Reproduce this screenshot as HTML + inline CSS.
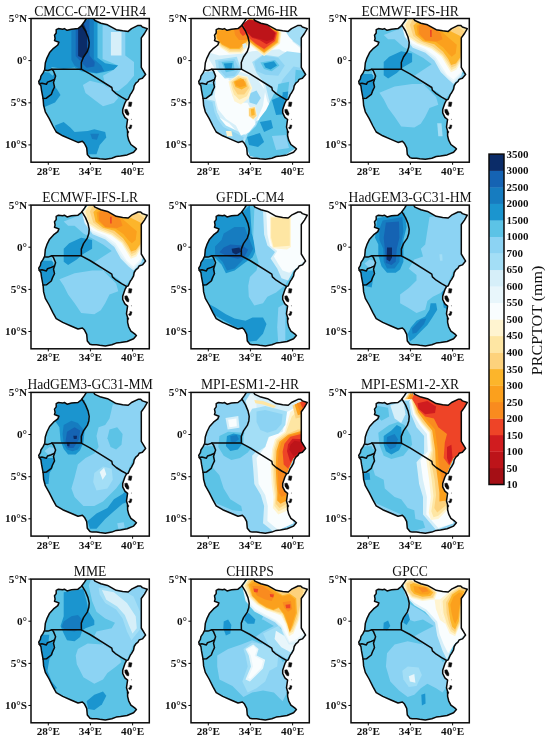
<!DOCTYPE html>
<html><head><meta charset="utf-8"><title>PRCPTOT</title>
<style>
html,body{margin:0;padding:0;background:#fff}
svg{display:block}
.t{font-family:"Liberation Serif","Times New Roman",serif;font-size:13.6px;fill:#111}
.k{font-family:"Liberation Serif","Times New Roman",serif;font-weight:bold;font-size:11.2px;fill:#111}
.c{font-family:"Liberation Serif","Times New Roman",serif;font-weight:bold;font-size:11px;fill:#111}
.l{font-family:"Liberation Serif","Times New Roman",serif;font-size:15.6px;fill:#111}
</style></head><body>
<svg width="550" height="742" viewBox="0 0 550 742">
<rect width="550" height="742" fill="#fff"/>
<defs>
<clipPath id="cp"><path d="M55.7 -0.5 L62.3 -0.5 L63.9 2 L69.9 4.7 L76.5 6.3 L85.2 11.2 L91.7 12.3 L97.2 12.9 L100.5 10.1 L107 6.9 L109.7 6.9 L111.4 8.5 L116.3 10.1 L113.5 15 L110.3 19.4 L110.3 48.9 L114.6 56 L111.4 59.8 L108.1 60.9 L107 63 L104.8 64.7 L103.2 67.4 L102.6 70.7 L100.5 74.5 L99.4 75.9 L97.2 80.8 L95.5 81.5 L93.9 84.6 L91.7 91.1 L91.7 94.4 L93.9 98.8 L96.6 101 L96.1 104.2 L95.5 108.6 L96.6 112.4 L96.6 117.3 L97.7 121.7 L99.9 126 L103.7 128.8 L105.4 130.4 L102.6 133.7 L96.1 136.4 L89.5 137.5 L85.2 138 L80.8 139.7 L74.3 140.8 L68.8 140.2 L65.5 139.7 L61.2 139.7 L59 139.1 L56.3 135.9 L55.7 129.3 L53.5 125 L51.4 122.8 L47 123.9 L39.4 120.6 L31.7 117.3 L25.2 113.5 L21.9 107.5 L18.1 99.9 L14.3 93.3 L12.6 86.8 L12.1 80.2 L10.5 71.8 L9.9 67.4 L8.3 65.2 L7.7 63 L9.4 60.3 L9.9 57.6 L12.1 54.3 L13.7 51 L14.3 44.5 L15.9 39.6 L18.6 34.1 L22.5 29.8 L26.8 26.5 L27.9 23.8 L23.5 22.1 L24.1 20 L23.5 16.7 L25.2 14.5 L25.2 11.2 L27.4 10.1 L31.7 10.7 L33.4 10.1 L36.1 11.8 L40.5 10.7 L47 10.1 L50.3 7.4 L53.5 3Z"/></clipPath>
<clipPath id="fr"><rect x="0" y="0" width="118.3" height="143.7"/></clipPath>
<g id="bd" fill="none" stroke="#0a0a0a" stroke-width="1.5" stroke-linejoin="round" stroke-linecap="round"><path d="M55.7 -0.5 L62.3 -0.5 L63.9 2 L69.9 4.7 L76.5 6.3 L85.2 11.2 L91.7 12.3 L97.2 12.9 L100.5 10.1 L107 6.9 L109.7 6.9 L111.4 8.5 L116.3 10.1 L113.5 15 L110.3 19.4 L110.3 48.9 L114.6 56 L111.4 59.8 L108.1 60.9 L107 63 L104.8 64.7 L103.2 67.4 L102.6 70.7 L100.5 74.5 L99.4 75.9 L97.2 80.8 L95.5 81.5 L93.9 84.6 L91.7 91.1 L91.7 94.4 L93.9 98.8 L96.6 101 L96.1 104.2 L95.5 108.6 L96.6 112.4 L96.6 117.3 L97.7 121.7 L99.9 126 L103.7 128.8 L105.4 130.4 L102.6 133.7 L96.1 136.4 L89.5 137.5 L85.2 138 L80.8 139.7 L74.3 140.8 L68.8 140.2 L65.5 139.7 L61.2 139.7 L59 139.1 L56.3 135.9 L55.7 129.3 L53.5 125 L51.4 122.8 L47 123.9 L39.4 120.6 L31.7 117.3 L25.2 113.5 L21.9 107.5 L18.1 99.9 L14.3 93.3 L12.6 86.8 L12.1 80.2 L10.5 71.8 L9.9 67.4 L8.3 65.2 L7.7 63 L9.4 60.3 L9.9 57.6 L12.1 54.3 L13.7 51 L14.3 44.5 L15.9 39.6 L18.6 34.1 L22.5 29.8 L26.8 26.5 L27.9 23.8 L23.5 22.1 L24.1 20 L23.5 16.7 L25.2 14.5 L25.2 11.2 L27.4 10.1 L31.7 10.7 L33.4 10.1 L36.1 11.8 L40.5 10.7 L47 10.1 L50.3 7.4 L53.5 3Z"/><path d="M51 6.8 L54.5 12.5 L57 18.5 L58.2 24 L57.8 28.5 L56.3 33 L52.5 38.5 L50.3 44 L50.4 50.7"/><path d="M14.5 51.8 L17 52 L20.8 50.7 L50.3 50.7 L59 55.4 L80.8 69 L81.4 71.8 L85.2 75.1 L90.6 78.6 L95.5 81.3"/><path d="M20.8 50.7 L22.5 52.5 L24.6 57.6 L23.5 60.9 L22.5 64.1 L23.5 68.5 L21.4 72.9 L20.3 75.9 L15.4 79.7 L12.1 80"/><path d="M23.5 60.9 L20.3 62.3 L16.5 63.6 L15.4 65.8 L11 64.7 L8.3 65.2"/><path d="M98.2 83.5 L101 83.8 L100.1 88 L97.5 87.7Z" fill="#0a0a0a" stroke-width="0.5"/><path d="M94 91 L96.1 90.7 L97.9 94.7 L97.6 96.8 L95.8 96.5 L94 93.8Z" fill="#0a0a0a" stroke-width="0.5"/><path d="M99.2 106.5 L101 106.8 L100.1 110.1 L98.2 110.4 L97.6 108.9 L98.8 108.3Z" fill="#0a0a0a" stroke-width="0.5"/><path d="M96.6 112.5 L97.8 113 L97.5 114.5 L96.6 114.3Z" fill="#0a0a0a" stroke-width="0.5"/><circle cx="100.4" cy="100.7" r="0.5" fill="#666" stroke="none"/></g>
<g id="ax"><rect x="0" y="0" width="118.3" height="143.7" fill="none" stroke="#0a0a0a" stroke-width="1.5"/><path d="M-2.6 0.0H0" stroke="#0a0a0a" stroke-width="1"/><text class="k" x="-4" y="3.5" text-anchor="end">5°N</text><path d="M-2.6 42.1H0" stroke="#0a0a0a" stroke-width="1"/><text class="k" x="-4" y="45.6" text-anchor="end">0°</text><path d="M-2.6 84.3H0" stroke="#0a0a0a" stroke-width="1"/><text class="k" x="-4" y="87.8" text-anchor="end">5°S</text><path d="M-2.6 126.4H0" stroke="#0a0a0a" stroke-width="1"/><text class="k" x="-4" y="129.9" text-anchor="end">10°S</text><path d="M17.3 143.7v2.6" stroke="#0a0a0a" stroke-width="1"/><text class="k" x="17.3" y="156.3" text-anchor="middle">28°E</text><path d="M59.4 143.7v2.6" stroke="#0a0a0a" stroke-width="1"/><text class="k" x="59.4" y="156.3" text-anchor="middle">34°E</text><path d="M101.6 143.7v2.6" stroke="#0a0a0a" stroke-width="1"/><text class="k" x="101.6" y="156.3" text-anchor="middle">40°E</text></g>
</defs>
<g transform="translate(31.0 18.5)">
<g clip-path="url(#fr)"><g clip-path="url(#cp)">
<rect x="0" y="0" width="118.3" height="143.7" fill="#5cc3e6"/>
<path d="M8.7 4.4 L66.5 0 L66.5 39.3 L74.2 44.7 L87.3 46.9 L82.9 51.3 L73.1 53.5 L65.5 55 L50.2 52.8 L43.6 49.1 L32.7 50.6 L25.1 51.5 L21.8 54.5 L13.1 53.5 L6.5 56.7 L6.5 91.6 L15.3 87.7 L24 84 L29.5 76.4 L26.2 70.9 L21.8 65.5 L24.4 57.2 L21.8 51.5 L8.7 51.5Z" fill="#1b95cf"/>
<path d="M20.7 48.4 L32.7 50.6 L24.4 52.4 L21.8 57.2 L18.5 54.5Z" fill="#5cc3e6"/>
<path d="M71.6 6.5 L94.3 13.1 L94.3 37.1 L103 43.6 L103 57.2 L96 65.5 L87.3 72.4 L82.9 72 L87.3 79.6 L82.9 84.4 L72 87.7 L63.3 81.2 L54.5 74.6 L51.9 66.5 L58.9 62.2 L72 65.5 L78.5 70.3 L74.2 65.5 L72 57.2 L82.9 51.3 L87.3 46.9 L71.6 40.4Z" fill="#8cd3f3"/>
<path d="M79.9 13.5 L90.5 13.5 L90.5 37.1 L79.9 37.1Z" fill="#d6eff9"/>
<path d="M40.4 8.7 L62.8 0 L62.8 40.4 L70.3 46.9 L73.1 52.4 L65.5 54.5 L56.7 52.4 L51.3 51.5 L43.6 47.3 L40.4 41.5Z" fill="#167cc0"/>
<path d="M44.7 8.7 L58.5 0 L58.5 37.1 L63.7 43.6 L63.3 48 L55.6 49.3 L51.3 44.7 L44.7 37.5Z" fill="#1563b3"/>
<path d="M47.1 9.8 L52.4 4.4 L55.9 13.1 L56.3 32.7 L52.4 40.1 L47.1 37.5Z" fill="#0b2c68"/>
<path d="M24 106.9 L32.7 103.6 L39.3 109.1 L43.6 113.5 L56.7 112.4 L63.3 110.8 L74.2 113.5 L75.3 118.9 L68.7 126.5 L65.5 135.7 L56.7 135.7 L54.5 124.8 L43.6 122.6 L32.7 118.3 L25.1 113.5Z" fill="#1b95cf"/>
<path d="M59.3 115.2 L68.1 115.2 L65.9 121.3 L61.1 120.4Z" fill="#167cc0"/>
</g><use href="#bd"/></g>
<use href="#ax"/>
<text class="t" x="59.1" y="-3" text-anchor="middle">CMCC-CM2-VHR4</text>
</g>
<g transform="translate(191.0 18.5)">
<g clip-path="url(#fr)"><g clip-path="url(#cp)">
<rect x="0" y="0" width="118.3" height="143.7" fill="#f9fdfe"/>
<path d="M13.1 32.7 L28.4 37.1 L52.4 34.9 L61.1 32.7 L91.6 30.5 L117.8 8.7 L117.8 91.6 L102.5 139.6 L50.2 139.6 L50.2 117.8 L38.2 104.7 L27.3 98.2 L24 85.1 L13.1 80.7 L6.5 65.5 L6.5 52.4 L24 52.4 L25.1 65.5 L30.5 72 L37.1 65.5 L38.2 55.6 L50.2 53.5 L65.5 58.9 L74.2 72 L72 87.3 L65.5 102.5 L54.5 113.5 L56.7 122.2 L72 122.2 L87.3 109.1 L82.9 93.8 L76.4 82.9 L72 65.5 L63.3 56.7 L51.3 51.3 L24 50.6Z" fill="#d6eff9"/>
<path d="M86.2 13.1 L93.8 10.9 L98.2 19.6 L102.5 24 L113.5 32.7 L109.1 37.1 L100.4 34.9 L91.6 32.7 L85.1 28.4Z" fill="#f9fdfe"/>
<path d="M87.3 9.8 L102.5 7.6 L117.8 8.7 L113.5 30.5 L102.5 22.9 L98.2 18.5 L93.8 12Z" fill="#a3def6"/>
<path d="M96 32.7 L113.5 34.9 L115.6 65.5 L102.5 72 L96 87.3 L102.5 130.9 L65.5 141.8 L54.5 130.9 L53.5 117.8 L65.5 102.5 L76.4 98.2 L78.5 82.9 L74.2 65.5 L65.5 54.5 L61.1 43.6 L72 36 L87.3 38.2Z" fill="#a3def6"/>
<path d="M6.5 78.5 L23.6 82.5 L26.2 93.8 L29.5 100.4 L34.9 106.9 L44.7 111.7 L54.5 116.7 L51.3 128.7 L30.5 122.2 L17.5 111.3 L6.5 93.8Z" fill="#a3def6"/>
<path d="M6.5 79.4 L21.4 83.6 L23.6 93.8 L26.6 100.8 L32.3 108.4 L43.6 113.9 L52.8 118.7 L49.1 128.7 L30.5 122.2 L17.5 111.3 L6.5 93.8Z" fill="#8cd3f3"/>
<path d="M24 41.5 L45.8 38.2 L50.2 51.3 L44.7 58.9 L33.8 60 L25.7 51.3Z" fill="#a3def6"/>
<path d="M7.6 54.5 L24 52.4 L24.4 65.5 L21.8 76.4 L13.1 80.7 L8.7 72Z" fill="#8cd3f3"/>
<path d="M9.8 65.5 L23.6 65.5 L21.8 76.4 L13.1 80.3 L9.2 72Z" fill="#5cc3e6"/>
<path d="M27.3 42.5 L43.6 40.4 L48.4 50.2 L43.6 57.2 L34.9 58.5 L27.9 50.6Z" fill="#8cd3f3"/>
<path d="M30.5 43.6 L42.5 42.5 L43.6 51.9 L34.9 53.7Z" fill="#5cc3e6"/>
<path d="M32.7 44.9 L41.5 44.5 L40.6 50.2 L34.9 51.3Z" fill="#1b95cf"/>
<path d="M63.3 43.6 L72 37.1 L87.3 39.3 L93.8 46.9 L87.3 57.2 L74.2 56.3 L65.5 52.4Z" fill="#8cd3f3"/>
<path d="M69.4 44.1 L84 41.5 L88.4 46.9 L80.7 52.8 L73.1 50.6Z" fill="#5cc3e6"/>
<path d="M72.4 44.9 L82.9 42.8 L86 46.9 L79.6 51.1 L74.6 49.3Z" fill="#1b95cf"/>
<path d="M102.5 48 L114.5 50.2 L113.5 65.5 L102.5 72 L96 85.1 L96 102.5 L87.3 105.8 L82.9 113.5 L72 115.6 L69.8 130.9 L56.7 133.1 L53.5 122.2 L63.3 115.6 L72 102.5 L78.5 87.3 L87.3 72 L91.6 61.1Z" fill="#8cd3f3"/>
<path d="M104.7 51.3 L113.9 52.4 L112.4 64.4 L103.6 65.5Z" fill="#5cc3e6"/>
<path d="M87.3 65.5 L98.2 63.3 L96 82.9 L93.8 102.5 L87.3 104.7 L82.9 98.2 L78.5 87.3 L85.1 78.5Z" fill="#5cc3e6"/>
<path d="M68.9 99.5 L75.1 91.4 L79 83.6 L82.9 75.5 L89 71.6 L97.1 79.4 L97.1 111.5 L104.9 129.6 L92.9 137.5 L73.1 140.5 L58.9 137.5 L53.9 123.5 L56.9 115.4 L65 107.6Z" fill="#5cc3e6"/>
<path d="M80.9 117.6 L94.9 116.5 L98 129.6 L85.1 131.6Z" fill="#8cd3f3"/>
<path d="M91.6 73.7 L97.3 73.1 L96 82.5 L91.6 81.2Z" fill="#1b95cf"/>
<path d="M80.9 81.6 L92.9 76.6 L95.3 95.6 L85.1 96.4Z" fill="#1b95cf"/>
<path d="M68.9 103.4 L80.1 101.5 L82 109.5 L73.1 113.5Z" fill="#1b95cf"/>
<path d="M56.1 118.5 L68.9 114.5 L73.1 123.5 L67 128.5 L58 126.5Z" fill="#1b95cf"/>
<path d="M57.8 75.3 L65.5 72 L69.8 79.6 L65.5 86.2 L58.5 84Z" fill="#8cd3f3"/>
<path d="M22.9 9.8 L52.4 5.5 L58.9 0 L88.4 9.8 L90.5 14.4 L89 25.3 L73.1 37.5 L61.3 28.4 L58.5 25.7 L50.6 34.9 L38.2 34.9 L29.5 29.2 L24 21.8Z" fill="#fff4d0"/>
<path d="M23.6 10.5 L52.4 6.1 L58.9 0 L87.7 10.5 L89.7 14.4 L88.4 24.7 L73.1 36.4 L62 27.7 L58 24.4 L49.7 33.4 L38.6 33.4 L30.1 28.4 L24.7 21.4Z" fill="#fee6a3"/>
<path d="M24.4 11.3 L52.4 6.5 L58.9 0 L87.3 11.3 L88.8 14.4 L87.5 24.2 L73.1 35.1 L62.6 27.1 L57.6 23.1 L49.3 32.1 L39.1 32.1 L30.5 27.3 L25.3 20.7Z" fill="#fdd27c"/>
<path d="M25.3 12 L52.4 7 L58.9 0 L86.8 12 L87.9 14.4 L86.8 24 L73.1 34.3 L62.8 26.6 L57.2 21.8 L48.4 30.5 L39.1 30.5 L30.8 26.2 L25.7 20.1Z" fill="#fcb52b"/>
<path d="M26 12.4 L44.9 9.6 L52.4 7.2 L58.9 0 L86.4 12.7 L87.1 14.4 L86 23.6 L73.1 33.4 L63.1 26.4 L56.9 20.9 L51.9 25.5 L48 29.5 L39.1 29.5 L31 25.5 L26 19.4Z" fill="#fba01d"/>
<path d="M43 10.5 L51.9 7.9 L58.5 1.1 L86 13.1 L86.4 14.4 L85.1 23.1 L73.1 32.1 L63.9 26 L57.4 20.1 L53.9 21.6 L48 21.6 L44.1 16.6Z" fill="#f98b1f"/>
<path d="M48 9.6 L51.5 5.9 L58 1.1 L85.5 13.5 L86 14.4 L84 22.5 L73.1 30.5 L65 25.5 L58 19.4 L55.4 15.3 L51.9 17.5 L49.1 14.4Z" fill="#ee4427"/>
<path d="M51.9 5.7 L57.2 1.3 L67 2.2 L77.7 7.4 L84.9 14.4 L82.9 21.4 L75.5 25.7 L68.9 21.8 L61.1 19.2 L55.9 14Z" fill="#d01c1f"/>
<path d="M52.4 5.5 L57.2 1.5 L67 2.4 L77 7.4 L84 14.4 L82 20.5 L75.9 22.5 L68.9 20.5 L61.1 18.5 L56.1 13.5Z" fill="#bd1419"/>
<path d="M51.3 25.7 L54.5 24.4 L55.9 28.4 L52.4 30.5Z" fill="#d6eff9"/>
<path d="M25.3 64.6 L38.4 61.3 L41.7 77.7 L46.7 84.2 L56.5 84.2 L61.3 94 L64.6 105.6 L58 113.7 L50 116.9 L44.9 107.1 L35.1 100.6 L27.1 90.8 L23.8 77.7Z" fill="#f9fdfe"/>
<path d="M37.5 63.1 L46.7 56.5 L56.5 58 L61.3 69.6 L58 79.4 L50 86 L43.4 82.7 L39.3 71.1Z" fill="#fff4d0"/>
<path d="M39.3 63.3 L47.1 57.6 L55.6 59.3 L59.8 69.6 L55.9 77.7 L48.4 81.2 L43 76.1 L41 70.3Z" fill="#fee6a3"/>
<path d="M40.8 63.7 L47.3 58.9 L54.8 60.4 L58 69.6 L53.2 76.1 L46.7 76.1 L42.5 69.6Z" fill="#fdd27c"/>
<path d="M42.5 63.3 L49.7 59.6 L54.5 63.3 L55.9 68.1 L50.6 71.1 L44.5 68.5Z" fill="#fcb52b"/>
<path d="M44.1 63.1 L52.4 60.4 L54.8 67 L49.1 68.7 L44.9 67Z" fill="#fba01d"/>
<path d="M57.2 89.5 L64.1 87.7 L66.1 97.7 L62.4 101.5 L57.6 97.7Z" fill="#fff4d0"/>
<path d="M58 89.9 L63.7 88.4 L65.5 97.3 L62.2 100.6 L58 97.3Z" fill="#fdd27c"/>
<path d="M59.8 90.8 L63.3 89.9 L63.7 96.4 L60.4 97.3Z" fill="#fcb52b"/>
<path d="M34.9 112.4 L40.4 112.4 L41.5 117.8 L36 117.8Z" fill="#fff4d0"/>
</g><use href="#bd"/></g>
<use href="#ax"/>
<text class="t" x="59.1" y="-3" text-anchor="middle">CNRM-CM6-HR</text>
</g>
<g transform="translate(351.0 18.5)">
<g clip-path="url(#fr)"><g clip-path="url(#cp)">
<rect x="0" y="0" width="118.3" height="143.7" fill="#5cc3e6"/>
<path d="M28.4 74.2 L43.6 68.1 L61.1 65.5 L72 65.5 L85.1 78.5 L87.3 86.2 L78.5 89.5 L74.2 98.2 L69.8 105.2 L63.3 109.1 L50.2 108 L43.6 98.2 L37.1 89.5 L32.7 80.7Z" fill="#8cd3f3"/>
<path d="M32.7 16.4 L52.4 8.7 L54.5 4.4 L65.5 21.8 L78.5 28.4 L87.3 37.1 L96 52.4 L104.7 56.7 L117.8 54.5 L102.5 65.5 L100.4 73.1 L93.8 81.2 L87.3 74.2 L80.7 69.8 L72 65.5 L63.3 57.2 L80.7 45.8 L72 39.3 L60 32.7 L52.4 28.4 L43.6 20.7 L37.1 20.7Z" fill="#8cd3f3"/>
<path d="M86.2 104.7 L90.5 104.7 L91.6 117.8 L87.3 117.8Z" fill="#a3def6"/>
<path d="M32.7 43.6 L38.2 38.2 L50.2 32.7 L61.1 34.9 L61.1 43.6 L51.3 49.3 L45.8 54.5 L37.1 60 L32.7 56.7Z" fill="#1b95cf"/>
<path d="M7.6 55.6 L21.8 55.6 L23.1 65.5 L21.8 74.2 L13.1 79.9 L9.2 65.5Z" fill="#1b95cf"/>
<path d="M20.7 51.3 L24.4 52.4 L24 57.2 L21.4 56.3Z" fill="#8cd3f3"/>
<path d="M51.1 8.3 L57.2 0 L118.9 6.5 L115.6 43.6 L110.2 57.2 L102.5 65.5 L97.3 61.1 L89.7 53.5 L83.3 41.9 L74.4 34.3 L61.7 29.2 L53.7 18.3Z" fill="#d6eff9"/>
<path d="M51.3 8.1 L57.2 0 L118.9 6.5 L115.6 43.6 L109.5 55.9 L102.5 63.3 L96.7 58.5 L90.3 50.8 L84 40.1 L74.4 32.3 L61.7 27.3 L54.1 17.9Z" fill="#e8f6fb"/>
<path d="M51.5 7.9 L57.2 0 L118.9 6.5 L115.6 43.6 L109.1 54.5 L102.5 61.1 L96 55.9 L91 48.2 L84.7 38.2 L74.4 30.5 L61.7 25.3 L54.5 17.5Z" fill="#f9fdfe"/>
<path d="M52.4 6.5 L57.2 0 L118.9 6.5 L116.5 9.6 L111.3 41.5 L105.4 51.3 L99.9 53.7 L95.6 46.7 L90.5 38.2 L80.3 30.5 L66.3 25.3 L56.3 18.8Z" fill="#fff4d0"/>
<path d="M54.5 6.5 L58.5 0 L117.8 6.5 L115.2 13.1 L110.4 40.6 L104.9 49.3 L100.4 51.5 L96.7 45.8 L91.4 37.3 L80.9 29.5 L67 24 L58 17.9Z" fill="#fee6a3"/>
<path d="M58.9 6.5 L61.5 1.1 L104.7 6.5 L113.5 13.1 L109.7 39.7 L104.9 46.9 L100.6 48.9 L97.3 43.6 L91.9 36 L81.8 27.9 L69.8 23.1 L62.2 17.5Z" fill="#fdd27c"/>
<path d="M62.4 7 L67.6 2.2 L91.6 8.7 L111.3 18.5 L109.3 38.8 L104.9 44.9 L100.1 46.5 L97.3 40.6 L92.1 33.2 L83.3 25.7 L72 22.7 L64.6 16.6Z" fill="#fcb52b"/>
<path d="M65.5 7.2 L73.1 3.3 L80.7 7.2 L91 13.5 L99.9 21.2 L105.8 26.2 L104.7 34.9 L100.8 38.2 L97.3 34.9 L92.3 29 L84.7 23.6 L74.4 22.5 L66.8 15.9Z" fill="#fba01d"/>
<path d="M67.6 7.6 L74.2 4.8 L81.2 8.3 L89.5 14.4 L91.6 20.7 L86.2 22.9 L74.4 21.8 L68.1 15.3Z" fill="#f98b1f"/>
<path d="M69.4 8.3 L82 9.6 L87.3 15.9 L83.3 21.2 L74.4 21.2 L69.4 14.8Z" fill="#f98b1f"/>
<path d="M79 11.6 L80.7 11.6 L80.7 18.5 L79.2 18.5Z" fill="#ee4427"/>
</g><use href="#bd"/></g>
<use href="#ax"/>
<text class="t" x="59.1" y="-3" text-anchor="middle">ECMWF-IFS-HR</text>
</g>
<g transform="translate(31.0 205.1)">
<g clip-path="url(#fr)"><g clip-path="url(#cp)">
<rect x="0" y="0" width="118.3" height="143.7" fill="#5cc3e6"/>
<path d="M28.4 74.2 L43.6 68.1 L61.1 65.5 L72 65.5 L85.1 78.5 L87.3 86.2 L78.5 89.5 L74.2 98.2 L69.8 105.2 L63.3 109.1 L50.2 108 L43.6 98.2 L37.1 89.5 L32.7 80.7Z" fill="#8cd3f3"/>
<path d="M32.7 16.4 L52.4 8.7 L54.5 4.4 L65.5 21.8 L78.5 28.4 L87.3 37.1 L96 52.4 L104.7 56.7 L117.8 54.5 L102.5 65.5 L100.4 73.1 L93.8 81.2 L87.3 74.2 L80.7 69.8 L72 65.5 L63.3 57.2 L80.7 45.8 L72 39.3 L60 32.7 L52.4 28.4 L43.6 20.7 L37.1 20.7Z" fill="#8cd3f3"/>
<path d="M32.7 43.6 L38.2 38.2 L50.2 32.7 L61.1 34.9 L61.1 43.6 L51.3 49.3 L45.8 54.5 L37.1 60 L32.7 56.7Z" fill="#1b95cf"/>
<path d="M7.6 55.6 L21.8 55.6 L23.1 65.5 L21.8 74.2 L13.1 79.9 L9.2 65.5Z" fill="#1b95cf"/>
<path d="M20.7 51.3 L24.4 52.4 L24 57.2 L21.4 56.3Z" fill="#8cd3f3"/>
<path d="M51.1 8.3 L57.2 0 L118.9 6.5 L115.6 43.6 L110.2 57.2 L102.5 65.5 L97.3 61.1 L89.7 53.5 L83.3 41.9 L74.4 34.3 L61.7 29.2 L53.7 18.3Z" fill="#d6eff9"/>
<path d="M51.3 8.1 L57.2 0 L118.9 6.5 L115.6 43.6 L109.5 55.9 L102.5 63.3 L96.7 58.5 L90.3 50.8 L84 40.1 L74.4 32.3 L61.7 27.3 L54.1 17.9Z" fill="#e8f6fb"/>
<path d="M51.5 7.9 L57.2 0 L118.9 6.5 L115.6 43.6 L109.1 54.5 L102.5 61.1 L96 55.9 L91 48.2 L84.7 38.2 L74.4 30.5 L61.7 25.3 L54.5 17.5Z" fill="#f9fdfe"/>
<path d="M52.4 6.5 L57.2 0 L118.9 6.5 L116.5 9.6 L111.3 41.5 L105.4 51.3 L99.9 53.7 L95.6 46.7 L90.5 38.2 L80.3 30.5 L66.3 25.3 L56.3 18.8Z" fill="#fff4d0"/>
<path d="M54.5 6.5 L58.5 0 L117.8 6.5 L115.2 13.1 L110.4 40.6 L104.9 49.3 L100.4 51.5 L96.7 45.8 L91.4 37.3 L80.9 29.5 L67 24 L58 17.9Z" fill="#fee6a3"/>
<path d="M58.9 6.5 L61.5 1.1 L104.7 6.5 L113.5 13.1 L109.7 39.7 L104.9 46.9 L100.6 48.9 L97.3 43.6 L91.9 36 L81.8 27.9 L69.8 23.1 L62.2 17.5Z" fill="#fdd27c"/>
<path d="M62.4 7 L67.6 2.2 L91.6 8.7 L111.3 18.5 L109.3 38.8 L104.9 44.9 L100.1 46.5 L97.3 40.6 L92.1 33.2 L83.3 25.7 L72 22.7 L64.6 16.6Z" fill="#fcb52b"/>
<path d="M65.5 7.2 L73.1 3.3 L80.7 7.2 L91 13.5 L99.9 21.2 L105.8 26.2 L104.7 34.9 L100.8 38.2 L97.3 34.9 L92.3 29 L84.7 23.6 L74.4 22.5 L66.8 15.9Z" fill="#fba01d"/>
<path d="M67.6 7.6 L74.2 4.8 L81.2 8.3 L89.5 14.4 L91.6 20.7 L86.2 22.9 L74.4 21.8 L68.1 15.3Z" fill="#f98b1f"/>
<path d="M69.4 8.3 L82 9.6 L87.3 15.9 L83.3 21.2 L74.4 21.2 L69.4 14.8Z" fill="#f98b1f"/>
<path d="M79 11.6 L80.7 11.6 L80.7 18.5 L79.2 18.5Z" fill="#ee4427"/>
</g><use href="#bd"/></g>
<use href="#ax"/>
<text class="t" x="59.1" y="-3" text-anchor="middle">ECMWF-IFS-LR</text>
</g>
<g transform="translate(191.0 205.1)">
<g clip-path="url(#fr)"><g clip-path="url(#cp)">
<rect x="0" y="0" width="118.3" height="143.7" fill="#5cc3e6"/>
<path d="M21.8 8.7 L52.4 6.5 L58.9 0 L60.7 28.4 L65.5 43.6 L61.5 52.4 L54.5 57.2 L43.6 65.5 L34.9 68.1 L30.5 59.3 L21.8 50.6 L13.1 52.4 L13.1 32.7Z" fill="#1b95cf"/>
<path d="M6.5 54.5 L22.9 53.5 L24 65.5 L21.8 75.3 L13.1 81.2 L6.5 81.2Z" fill="#1b95cf"/>
<path d="M17.5 98.6 L24.4 102.5 L34.9 109.1 L43.6 113.5 L54.5 115.6 L61.5 112.4 L72 112.4 L75.5 118.9 L72 128.7 L65.5 135.7 L56.7 136.6 L54.5 124.8 L43.6 121.3 L26.2 111.7 L15.3 104.7Z" fill="#1b95cf"/>
<path d="M32.7 28.4 L43.6 21.8 L53.5 21.8 L57.8 32.7 L62.2 43.6 L57.8 51.5 L52.4 54.5 L43.6 63.3 L36 65.5 L31.6 56.7 L24 49.3 L24 41.5 L30.5 34.9Z" fill="#167cc0"/>
<path d="M32.7 42.5 L39.3 39.3 L51.3 40.4 L57.2 44.7 L53.5 51.5 L46.9 53.7 L37.1 51.5 L28.4 47.1Z" fill="#1563b3"/>
<path d="M40.6 43.6 L48.4 42.5 L50.2 46.7 L44.9 49.3 L41.5 47.6Z" fill="#0b2c68"/>
<path d="M63.3 4.4 L65.5 0 L118.9 6.5 L117.8 54.5 L102.5 65.5 L93.8 80.7 L90.5 82.9 L85.1 87.3 L76.4 91.6 L72 98.2 L63.3 100.4 L57.8 91.6 L57.2 80.7 L58.9 72 L65.5 65.5 L67.6 57.2 L64.4 46.9 L62.2 32.7Z" fill="#8cd3f3"/>
<path d="M87.3 102.5 L94.3 98.2 L94.3 135.3 L87.3 139.6 L86.2 122.2Z" fill="#8cd3f3"/>
<path d="M72 5.5 L118.9 6.5 L117.8 54.5 L102.5 65.5 L97.1 75.3 L90.5 73.1 L86.2 63.3 L79.6 53.5 L84 46.9 L76.4 40.4 L73.1 29.5Z" fill="#d6eff9"/>
<path d="M75.3 6.5 L118.9 6.5 L116.7 52.4 L104.7 63.3 L98.2 67.6 L91.6 65.5 L87.3 58.9 L82.9 51.3 L86.2 45.8 L79 40.4 L76.4 29.5Z" fill="#f9fdfe"/>
<path d="M79 11.3 L99.9 11.3 L99.9 41.9 L96 44.3 L81.8 43.2 L79 32.7Z" fill="#fff4d0"/>
<path d="M80.1 12.4 L98.8 12.4 L98.8 40.6 L82.5 41.9 L80.1 32.7Z" fill="#fee6a3"/>
</g><use href="#bd"/></g>
<use href="#ax"/>
<text class="t" x="59.1" y="-3" text-anchor="middle">GFDL-CM4</text>
</g>
<g transform="translate(351.0 205.1)">
<g clip-path="url(#fr)"><g clip-path="url(#cp)">
<rect x="0" y="0" width="118.3" height="143.7" fill="#5cc3e6"/>
<path d="M78.5 12 L118.9 6.5 L117.8 54.5 L102.5 65.5 L96 80.7 L90.5 87.3 L81.8 91.6 L76.4 96 L74.2 104.7 L65.5 108 L56.7 102.5 L49.1 98.2 L49.1 89.5 L57.8 82.9 L65.5 75.3 L65.5 69.8 L57.8 63.7 L63.3 54.5 L72 51.3 L69.8 43.6 L74.2 39.3Z" fill="#8cd3f3"/>
<path d="M88.4 49.1 L91.2 49.1 L91.6 55.6 L89 55.6Z" fill="#a3def6"/>
<path d="M26.2 13.1 L53.5 7.6 L55.6 21.8 L52.4 34.9 L52.4 56.7 L49.1 64.4 L44.7 67.6 L36 67.6 L30.5 61.1 L27.3 50.2 L27.3 39.3 L24 32.7Z" fill="#1b95cf"/>
<path d="M31.6 15.3 L51.3 12 L52.4 26.2 L49.1 43.6 L48.4 56.7 L43.6 63.3 L36 63.3 L32.7 56.7 L32.3 43.6 L28.4 34.9 L28.4 24Z" fill="#167cc0"/>
<path d="M34.9 17.5 L48 16.4 L48.4 32.7 L45.8 43.6 L44.7 56.7 L40.4 60 L34.9 57.8 L33.8 43.6 L32.7 32.7Z" fill="#1563b3"/>
<path d="M36 42.5 L41 42.5 L41 52.4 L38.8 56.3 L35.6 54.5Z" fill="#0b2c68"/>
<path d="M18.5 54.5 L24.4 55.9 L23.1 63.7 L17.5 62.4 L13.5 58.5Z" fill="#8cd3f3"/>
<path d="M8.7 65.5 L22.9 65.5 L21.8 75.3 L20.7 82.5 L13.1 80.7 L8.3 72Z" fill="#1b95cf"/>
<path d="M56.7 128.7 L60 122.2 L65.5 115.6 L74.2 111.3 L78.5 104.7 L79.6 98.2 L85.1 98.2 L86.2 104.7 L80.7 113.5 L76.4 120 L69.8 126.5 L63.3 133.1 L58.9 136.4Z" fill="#1b95cf"/>
<path d="M61.1 123.3 L69.8 114.5 L75.3 113.5 L73.1 118.9 L65.5 127.6 L61.5 128.7Z" fill="#167cc0"/>
<path d="M90.5 87.7 L96 80.7 L97.3 104.7 L92.7 102.5Z" fill="#1b95cf"/>
</g><use href="#bd"/></g>
<use href="#ax"/>
<text class="t" x="59.1" y="-3" text-anchor="middle">HadGEM3-GC31-HM</text>
</g>
<g transform="translate(31.0 392.4)">
<g clip-path="url(#fr)"><g clip-path="url(#cp)">
<rect x="0" y="0" width="118.3" height="143.7" fill="#5cc3e6"/>
<path d="M81.8 12 L118.9 6.5 L117.8 54.5 L102.5 65.5 L96 80.7 L91.6 87.3 L85.1 96 L78.5 102.5 L72 109.1 L63.3 113.5 L52.4 113.5 L43.6 104.7 L40.4 96 L43.6 85.1 L46.9 72 L54.5 65.5 L63.3 61.1 L67.6 54.5 L65.5 43.6 L67.6 34.9 L74.2 32.7 L78.5 26.2Z" fill="#8cd3f3"/>
<path d="M78.5 37.1 L86.2 34.9 L91.6 41.5 L90.5 52.4 L85.1 57.2 L79.6 54.5 L76.4 45.8Z" fill="#5cc3e6"/>
<path d="M63.3 80.7 L72 74.2 L80.7 76.4 L81.8 87.3 L76.4 96 L65.5 98.2 L62.2 89.5Z" fill="#a3def6"/>
<path d="M68.7 79.6 L73.1 75.3 L75.3 81.8 L71.6 87.3Z" fill="#e8f6fb"/>
<path d="M86.2 130.9 L92.7 129.8 L93.8 135.3 L87.3 136.4Z" fill="#8cd3f3"/>
<path d="M25.1 12 L53.5 7.6 L56.7 19.6 L57.8 30.5 L53.5 39.3 L52.4 50.2 L49.1 57.8 L44.7 62.2 L37.1 62.2 L32.7 56.7 L29.5 48 L28.4 34.9 L24 28.4Z" fill="#1b95cf"/>
<path d="M32.7 32.7 L40.4 28.4 L46.9 30.5 L52.4 37.1 L51.3 50.2 L46.9 57.2 L41.5 58.9 L36 57.2 L32.7 51.3 L31.6 41.5Z" fill="#167cc0"/>
<path d="M36 39.3 L43.6 34.9 L49.1 38.2 L48 46.9 L42.5 55.6 L37.1 55.6 L34.5 49.1Z" fill="#1563b3"/>
<path d="M42.3 43.4 L46 43.4 L45.6 46.5 L42.8 46.5Z" fill="#0b2c68"/>
<path d="M36 50.2 L38.8 50.2 L38.4 54.1 L36.2 53.7Z" fill="#0b2c68"/>
<path d="M18.5 54.5 L24.4 55.9 L23.1 63.7 L17.5 62.4 L13.5 58.5Z" fill="#8cd3f3"/>
<path d="M8.7 65.5 L22.9 65.5 L21.8 75.3 L18.5 80.7 L17.5 91.6 L13.5 91.6 L8.3 72Z" fill="#1b95cf"/>
<path d="M56.7 128.7 L65.5 121.1 L76.4 115.6 L82.9 106.9 L91.6 101.5 L97.1 96 L98.2 109.1 L91.6 111.3 L82.9 118.9 L74.2 126.5 L65.5 136.4 L58.9 136.4Z" fill="#1b95cf"/>
</g><use href="#bd"/></g>
<use href="#ax"/>
<text class="t" x="59.1" y="-3" text-anchor="middle">HadGEM3-GC31-MM</text>
</g>
<g transform="translate(191.0 392.4)">
<g clip-path="url(#fr)"><g clip-path="url(#cp)">
<rect x="0" y="0" width="118.3" height="143.7" fill="#8cd3f3"/>
<path d="M6.5 80.7 L21.8 75.3 L28.4 82.9 L32.7 96 L39.3 106.9 L50.2 113.5 L51.3 118.9 L41.5 117.8 L26.2 111.3 L10.9 98.2Z" fill="#5cc3e6"/>
<path d="M6.5 54.5 L23.6 53.5 L24 65.5 L21.8 75.3 L13.1 81.2 L6.5 81.2Z" fill="#5cc3e6"/>
<path d="M28.4 43.6 L37.1 39.3 L52.4 40.4 L61.1 43.6 L63.3 52.4 L56.7 60 L49.1 65.5 L40.4 67.6 L32.7 63.3 L27.3 54.5Z" fill="#5cc3e6"/>
<path d="M36 43.6 L42.5 41 L49.7 42.5 L51.3 51.3 L46.9 57.2 L39.3 58.5 L34.9 53.5Z" fill="#1b95cf"/>
<path d="M39.3 43.6 L45.8 42.5 L48 46.9 L43.6 50.2 L39.7 49.1Z" fill="#167cc0"/>
<path d="M34.5 25.7 L47.3 23.6 L48.4 35.3 L36.7 37.1Z" fill="#d6eff9"/>
<path d="M37.1 27.3 L45.4 26.2 L45.8 33.8 L38.4 34.9Z" fill="#f9fdfe"/>
<path d="M54.5 8.7 L60 0 L118.9 6.5 L117.8 54.5 L102.5 65.5 L96 80.7 L98.2 109.1 L102.5 130.9 L82.9 139.6 L72 130.9 L73.1 113.5 L69.8 102.5 L63.3 91.6 L62.2 76.4 L61.1 63.3 L69.8 54.5 L73.1 43.6 L65.5 39.3 L60 30.5 L57.2 21.8Z" fill="#d6eff9"/>
<path d="M65.5 65.5 L74.2 54.5 L78.5 43.6 L91.6 39.3 L96 19.6 L118.9 6.5 L117.8 54.5 L102.5 65.5 L96 80.7 L98.2 109.1 L102.5 130.9 L87.3 137.5 L76.4 128.7 L76.8 113.5 L74.2 102.5 L67.6 91.6 L66.5 76.4Z" fill="#f9fdfe"/>
<path d="M55 8.7 L60 1.1 L65.5 6.5 L65.5 17.5 L58.5 21.8Z" fill="#e8f6fb"/>
<path d="M61.1 16.4 L74.2 13.5 L96 19.2 L94.3 32.7 L87.7 41 L77.5 44.7 L74.2 54.5 L65.5 60 L63.3 56.3 L52.4 51.5 L52.4 43.6 L56.3 32.7 L57.6 22.9Z" fill="#a3def6"/>
<path d="M65.5 19.2 L74.2 17.5 L91.6 21.8 L90.5 31.6 L85.1 37.5 L76.4 40.4 L69.4 37.5 L65.5 29.5Z" fill="#8cd3f3"/>
<path d="M63.3 7.6 L72 8.7 L85.1 13.5 L82.9 15.7 L72 12 L64.4 10.9Z" fill="#fee6a3"/>
<path d="M81.2 56.7 L84 46.9 L93.8 39.3 L99.3 19.6 L118.9 6.5 L117.8 54.5 L102.5 65.5 L96 80.7 L97.1 117.8 L87.3 122.2 L81.8 115.6 L82.5 104.7 L80.7 91.6 L79.6 72Z" fill="#fff4d0"/>
<path d="M82.5 57.2 L85.5 47.6 L94.9 40.4 L100.8 24 L118.9 6.5 L117.8 54.5 L102.5 65.5 L96 80.7 L96.4 114.5 L87.7 118.9 L83.3 113.5 L84 104.7 L82.5 91.6 L81.2 72Z" fill="#fee6a3"/>
<path d="M83.8 57.8 L86.8 48.4 L96 41.5 L106.9 37.1 L117.8 37.1 L117.8 54.5 L102.5 65.5 L96 80.7 L96 111.3 L88.4 115.6 L84.7 111.3 L85.1 102.5 L84 91.6 L82.9 73.1Z" fill="#fdd27c"/>
<path d="M85.5 58.5 L88.4 49.3 L97.1 42.3 L109.1 38.8 L117.8 39.7 L117.8 54.5 L102.5 65.5 L96 80.7 L95.6 108 L89.5 111.3 L86.2 108 L86.4 100.4 L85.5 90.5 L84.7 74.2Z" fill="#fba01d"/>
<path d="M87.7 58.9 L90.3 50.2 L98.2 43.2 L109.1 40.1 L117.8 41.5 L117.8 54.5 L102.5 65.5 L96 80.7 L95.1 102.5 L90.5 104.7 L87.7 100.4 L87.3 89.5 L86.4 74.2Z" fill="#f98b1f"/>
<path d="M91.6 59.3 L93.4 51.3 L99.3 44.3 L109.1 41.9 L117.8 43.6 L117.8 54.5 L102.5 65.5 L97.1 76.4 L92.7 72Z" fill="#ee4427"/>
<path d="M96 58.9 L97.1 51.9 L101.5 46.3 L113.5 46.9 L113.5 58.9 L102.5 65.5 L99.3 69.8Z" fill="#d01c1f"/>
<path d="M98.2 57.2 L99.5 52.4 L103.6 48.4 L112.4 50.2 L110.2 59.3 L102.5 63.7Z" fill="#bd1419"/>
<path d="M101.5 13.1 L118.9 6.5 L113.5 24 L104.7 26.2Z" fill="#fdd27c"/>
<path d="M103.6 12 L118.9 6.5 L113.5 20.7 L106.9 22.9Z" fill="#fba01d"/>
<path d="M105.8 10.9 L118.9 6.5 L114.5 17.5 L109.1 19.6Z" fill="#f98b1f"/>
<path d="M109.1 9.8 L118.9 6.5 L115.6 14.2 L111.3 15.3Z" fill="#ee4427"/>
</g><use href="#bd"/></g>
<use href="#ax"/>
<text class="t" x="59.1" y="-3" text-anchor="middle">MPI-ESM1-2-HR</text>
</g>
<g transform="translate(351.0 392.4)">
<g clip-path="url(#fr)"><g clip-path="url(#cp)">
<rect x="0" y="0" width="118.3" height="143.7" fill="#8cd3f3"/>
<path d="M6.5 80.7 L21.8 75.3 L24 82.9 L32.7 87.3 L33.8 96 L43.6 104.7 L50.2 106.9 L56.7 115.6 L63.3 117.8 L64.4 126.5 L72 128.7 L74.2 135.3 L58.9 139.6 L50.2 122.2 L26.2 111.3 L8.7 98.2Z" fill="#5cc3e6"/>
<path d="M6.5 54.5 L23.6 53.5 L24 65.5 L21.8 75.3 L13.1 81.2 L6.5 81.2Z" fill="#5cc3e6"/>
<path d="M20.1 51.9 L24.4 52.4 L24 57.2 L21.4 56.3Z" fill="#8cd3f3"/>
<path d="M24 13.1 L37.1 15.3 L38.2 24 L30.5 28.4 L24 21.8Z" fill="#5cc3e6"/>
<path d="M12 81.2 L18.5 80.3 L19.2 87.3 L13.5 87.7Z" fill="#1b95cf"/>
<path d="M27.3 40.4 L38.2 32.7 L46.9 29.5 L53.5 32.7 L60 43.6 L61.1 52.4 L52.4 63.3 L40.4 66.5 L32.7 63.3 L28.4 52.4Z" fill="#5cc3e6"/>
<path d="M32.7 43.6 L40.4 38.2 L45.8 32.7 L50.2 34.9 L51.3 51.3 L48 57.8 L40.4 62.2 L34.9 58.9 L32.7 52.4Z" fill="#1b95cf"/>
<path d="M36 44.7 L43.6 41.5 L46.9 46.9 L44.7 54.5 L39.3 57.2 L35.3 52.4Z" fill="#167cc0"/>
<path d="M39.3 13.1 L52.4 8.7 L54.5 21.8 L50.2 30.5 L43.6 26.2Z" fill="#d6eff9"/>
<path d="M46.9 8.7 L56.7 0 L60 21.8 L65.5 34.9 L73.1 43.6 L73.1 61.1 L65.5 69.8 L68.1 91.6 L72 104.7 L72 122.2 L85.1 137.5 L102.5 130.9 L98.2 109.1 L96 80.7 L102.5 65.5 L117.8 54.5 L118.9 6.5Z" fill="#d6eff9"/>
<path d="M51.3 7.6 L57.2 0 L62.2 21.8 L68.7 32.7 L75.9 41.5 L76.8 58.9 L69.4 68.1 L72 87.3 L75.9 104.7 L75.3 122.2 L87.3 135.7 L102.5 130.9 L98.2 109.1 L96 80.7 L102.5 65.5 L117.8 54.5 L118.9 6.5Z" fill="#f9fdfe"/>
<path d="M53.2 7 L58 0 L63.7 21.4 L70.3 31 L78.1 40.4 L79.9 57.8 L75.3 67.6 L78.1 87.3 L79.9 104.7 L77.7 120 L79.9 127.6 L87.3 126.5 L96 117.8 L98.2 109.1 L96 80.7 L102.5 65.5 L117.8 54.5 L118.9 6.5Z" fill="#fff4d0"/>
<path d="M53.9 6.8 L58.5 0 L64.6 20.9 L71.1 30.5 L79 39.7 L80.9 57.8 L78.1 69.8 L80.7 87.3 L82.5 103.6 L80.3 118.9 L82.5 124.8 L87.3 123.3 L95.6 115.6 L98.2 109.1 L96 80.7 L102.5 65.5 L117.8 54.5 L118.9 6.5Z" fill="#fee6a3"/>
<path d="M54.5 6.5 L58.9 0 L65.5 20.7 L72 30.1 L79.9 39.3 L82 57.8 L80.7 72 L83.6 87.3 L85.1 102.5 L83.3 115.6 L86.2 120 L95.6 112.4 L96 80.7 L102.5 65.5 L117.8 54.5 L118.9 6.5Z" fill="#fdd27c"/>
<path d="M56.3 6.5 L60 0 L67.2 20.1 L74.2 29.5 L81.2 38.2 L84.2 57.8 L84.7 72 L86.8 87.3 L88.4 100.4 L88.4 109.1 L95.1 108 L96 80.7 L102.5 65.5 L117.8 54.5 L118.9 6.5Z" fill="#fba01d"/>
<path d="M58.5 6.5 L61.5 0 L69.4 19.6 L76.4 28.4 L84 37.1 L86.8 57.8 L87.7 72 L90.1 82.9 L91.6 96 L95.1 98.2 L96 80.7 L102.5 65.5 L117.8 54.5 L118.9 6.5Z" fill="#f98b1f"/>
<path d="M61.1 6.5 L63.7 0 L118.9 6.5 L117.8 54.5 L102.5 65.5 L98.2 73.1 L92.7 65.5 L93.8 50.2 L96 41.5 L87.3 34.9 L82.9 26.2 L74.2 24 L67.6 17.5Z" fill="#ee4427"/>
<path d="M66.5 10.9 L76.4 8.7 L85.1 14.2 L84 20.7 L74.2 21.8 L67.6 16.4Z" fill="#d01c1f"/>
<path d="M96 54.5 L100.4 52.4 L101.5 65.5 L98.2 72 L96 65.5Z" fill="#d01c1f"/>
<path d="M92.9 84 L96 83.3 L96.4 89.9 L93.8 90.5Z" fill="#f98b1f"/>
</g><use href="#bd"/></g>
<use href="#ax"/>
<text class="t" x="59.1" y="-3" text-anchor="middle">MPI-ESM1-2-XR</text>
</g>
<g transform="translate(31.0 579.1)">
<g clip-path="url(#fr)"><g clip-path="url(#cp)">
<rect x="0" y="0" width="118.3" height="143.7" fill="#5cc3e6"/>
<path d="M57.8 6.5 L60 0 L118.9 6.5 L117.8 54.5 L102.5 65.5 L96 80.7 L87.3 75.3 L80.7 69.8 L72 65.5 L63.3 57.2 L65.5 52.4 L80.7 49.1 L84 43.6 L74.2 39.3 L65.5 32.7 L61.1 21.8Z" fill="#8cd3f3"/>
<path d="M46.9 69.8 L56.7 64.4 L72 65.5 L82.9 72 L87.3 75.3 L90.5 82.9 L85.1 87.3 L76.4 93.8 L72 100.4 L63.3 104.7 L52.4 98.2 L45.8 85.1 L44.7 76.4Z" fill="#8cd3f3"/>
<path d="M67.6 8.7 L87.3 8.7 L102.5 17.5 L109.1 32.7 L109.1 50.2 L100.4 61.1 L96 52.4 L91.6 39.3 L85.1 30.5 L74.2 24 L68.7 15.3Z" fill="#a3def6"/>
<path d="M70.9 10.9 L82.9 13.1 L96 24 L104.7 37.1 L105.8 49.1 L101.5 54.5 L98.2 46.9 L93.8 36 L86.2 27.3 L75.3 20.7Z" fill="#d6eff9"/>
<path d="M32.7 13.1 L52.4 9.8 L55.6 21.8 L57.8 32.7 L63.3 41.5 L63.3 45.8 L54.5 49.1 L51.3 51.3 L49.1 57.8 L43.6 62.2 L36 61.1 L32.7 54.5 L29.5 46.9 L32.7 37.1 L32.7 21.8Z" fill="#1b95cf"/>
<path d="M32.7 42.5 L40.4 37.1 L46.9 36 L51.3 40.4 L50.2 49.1 L43.6 52.4 L36 51.3 L30.5 48Z" fill="#167cc0"/>
<path d="M6.5 55.6 L21.8 55.6 L22.9 65.5 L21.8 75.3 L18.5 79.6 L16.4 91.6 L20.7 102.5 L26.2 109.1 L22.9 110.2 L13.1 93.8 L6.5 82.9Z" fill="#1b95cf"/>
<path d="M18.5 54.5 L24.4 55.9 L23.1 63.7 L17.5 62.4Z" fill="#5cc3e6"/>
<path d="M55.6 122.2 L63.3 115.6 L72 112.4 L75.3 116.7 L70.9 125.5 L63.3 130.9 L57.2 129.8Z" fill="#1b95cf"/>
</g><use href="#bd"/></g>
<use href="#ax"/>
<text class="t" x="59.1" y="-3" text-anchor="middle">MME</text>
</g>
<g transform="translate(191.0 579.1)">
<g clip-path="url(#fr)"><g clip-path="url(#cp)">
<rect x="0" y="0" width="118.3" height="143.7" fill="#5cc3e6"/>
<path d="M26.2 76.4 L37.1 69.8 L50.2 65.5 L61.1 61.1 L72 65.5 L87.3 74.2 L91.6 82.9 L96 80.7 L98.2 109.1 L91.6 122.2 L82.9 113.5 L72 111.3 L61.1 113.5 L52.4 117.8 L41.5 106.9 L28.4 100.4 L26.2 87.3Z" fill="#8cd3f3"/>
<path d="M57.2 24 L72 34.9 L87.3 43.6 L91.6 56.7 L102.5 65.5 L96 80.7 L87.3 75.3 L72 65.5 L64.4 57.8 L72 52.4 L82.9 46.9 L72 40.4 L63.3 42.5 L54.5 39.3Z" fill="#8cd3f3"/>
<path d="M52.4 69.8 L61.1 63.3 L72 65.5 L87.3 75.3 L86.2 87.3 L78.5 91.6 L74.2 102.5 L65.5 109.1 L56.7 113.5 L51.3 102.5 L56.7 87.3 L54.5 76.4Z" fill="#a3def6"/>
<path d="M72 54.5 L87.3 46.9 L96 56.7 L113.5 52.4 L96 79.6 L87.3 74.2 L78.5 67.6Z" fill="#a3def6"/>
<path d="M54.5 69.8 L62.2 65.5 L67.6 69.8 L65.5 76.4 L74.2 80.7 L72 89.5 L65.5 96 L58.9 102.5 L54.5 100.4 L60 87.3 L57.8 76.4Z" fill="#e8f6fb"/>
<path d="M56.3 70.3 L62.2 66.8 L65.9 70.3 L63.7 76.8 L72 81.6 L70.3 88.6 L64.6 94.7 L59.3 99.9 L57.2 98.6 L62 87.3 L59.8 76.4Z" fill="#f9fdfe"/>
<path d="M84.9 51.7 L98.6 60 L108 61.3 L112.1 55.9 L104.1 65.5 L99.9 73.5 L90.3 68.1 L83.6 60Z" fill="#e8f6fb"/>
<path d="M32.7 42.5 L37.1 40.4 L40.4 45.8 L39.3 54.5 L34.9 56.3 L32.3 49.1Z" fill="#1b95cf"/>
<path d="M53.5 36 L57.8 33.8 L64.4 40.4 L63.3 44.7 L56.7 44.7 L53.5 41.5Z" fill="#1b95cf"/>
<path d="M50.2 28.4 L56.7 26.2 L72 37.1 L69.8 43.6 L63.3 46.9 L54.5 46.9 L51.9 41.5Z" fill="#5cc3e6"/>
<path d="M53.5 36 L57.8 33.8 L64.4 40.4 L63.3 44.7 L56.7 44.7 L53.5 41.5Z" fill="#1b95cf"/>
<path d="M51.5 8.3 L57.2 0 L118.9 6.5 L116.7 43.6 L113.5 57.2 L105.4 65.5 L97.7 65.5 L93.4 57.2 L89.9 48.9 L84 43.2 L74.8 38.4 L63.3 32.3 L54.5 21.8Z" fill="#d6eff9"/>
<path d="M51.7 8.1 L57.2 0 L118.9 6.5 L116.7 43.6 L113 55.9 L105.4 62.8 L98.2 63.9 L93.8 55.9 L90.5 47.6 L84.4 41.9 L75.1 37.1 L63.7 31 L55 20.9Z" fill="#e8f6fb"/>
<path d="M51.9 7.9 L57.2 0 L118.9 6.5 L116.7 43.6 L112.1 54.5 L105.4 60.2 L98.6 62.6 L94.5 54.5 L91 46.3 L84.9 40.8 L75.3 36 L64.4 29.9 L55.6 20.3Z" fill="#f9fdfe"/>
<path d="M52.1 6.5 L57.2 0 L118.9 6.5 L116.3 10 L110.8 27.3 L108 40.8 L102.5 54.5 L98 57.2 L94.5 44.9 L90.3 36.7 L83.6 34 L75.3 31.2 L65.9 25.7 L57.6 17.7Z" fill="#fff4d0"/>
<path d="M53.7 6.5 L57.8 0 L117.8 6.5 L114.5 10.9 L109.7 27.3 L106.9 40.8 L102.1 52.4 L98.6 54.5 L95.3 44.5 L90.8 35.3 L83.6 32.7 L75.3 30.1 L66.5 24.9 L58.9 17.5Z" fill="#fee6a3"/>
<path d="M55.6 6.1 L58.9 0 L109.1 7.6 L112.4 12 L108.7 27.3 L106 39.3 L101.7 49.7 L99.1 52.4 L96 44.5 L91.6 34 L83.6 31.9 L75.3 29 L67.4 24.4 L60.2 17Z" fill="#fdd27c"/>
<path d="M57.2 5.7 L61.1 1.1 L75.3 5.7 L84.9 12.2 L91.6 16.1 L98.6 14.4 L105.2 19.2 L106 34 L102.1 45.8 L98.8 53.5 L96.2 44.9 L92.5 35.3 L87.7 29 L82.3 31.2 L75.3 28.6 L68.1 24.2 L61.1 16.8Z" fill="#fcb52b"/>
<path d="M58.9 5.5 L63.1 2.6 L75.3 6.8 L84.9 13.5 L91.6 17.5 L98.6 15.7 L104.1 20.3 L104.7 34 L101.2 44.9 L98.6 52.4 L96.9 44.9 L93.6 35.3 L87.7 27.9 L82.3 30.3 L75.3 27.7 L68.5 23.6 L61.7 16.8Z" fill="#fba01d"/>
<path d="M61.1 6.8 L71.3 6.8 L83.6 14.8 L80.7 21.8 L74 20.3 L65.9 16.4Z" fill="#f98b1f"/>
<path d="M91.6 23.1 L99.9 21.8 L101.2 29.9 L97.1 32.7 L93.2 28.6Z" fill="#f98b1f"/>
<path d="M62.4 9.4 L67.2 10 L66.5 13.5 L63.1 12.9Z" fill="#ee4427"/>
<path d="M78.8 14.8 L82.9 15.5 L82.3 18.3 L79.2 17.7Z" fill="#ee4427"/>
<path d="M94.5 25.7 L99.3 25.1 L99.3 29.2 L95.1 29.2Z" fill="#ee4427"/>
</g><use href="#bd"/></g>
<use href="#ax"/>
<text class="t" x="59.1" y="-3" text-anchor="middle">CHIRPS</text>
</g>
<g transform="translate(351.0 579.1)">
<g clip-path="url(#fr)"><g clip-path="url(#cp)">
<rect x="0" y="0" width="118.3" height="143.7" fill="#5cc3e6"/>
<path d="M36 74.2 L43.6 65.5 L56.7 62.2 L72 65.5 L87.3 75.3 L91.6 82.9 L96 80.7 L97.1 104.7 L91.6 113.5 L85.1 109.1 L76.4 104.7 L69.8 109.1 L63.3 115.6 L56.7 117.8 L48 111.3 L39.3 102.5 L34.9 87.3Z" fill="#8cd3f3"/>
<path d="M57.2 24 L72 32.7 L82.9 41.5 L87.3 52.4 L96 80.7 L87.3 75.3 L72 65.5 L63.3 57.2 L72 52.4 L82.9 46.9 L72 40.4 L63.3 42.5 L54.5 39.3Z" fill="#8cd3f3"/>
<path d="M51.3 91.6 L56.7 87.3 L67.6 88.4 L70.9 96 L65.5 106.9 L57.8 108 L52.4 100.4Z" fill="#a3def6"/>
<path d="M57.8 97.1 L63.3 94.9 L64.4 103.6 L58.9 102.5Z" fill="#e8f6fb"/>
<path d="M32.7 43.6 L37.1 41.5 L39.3 46.9 L36 51.3 L32.3 50.2Z" fill="#1b95cf"/>
<path d="M53.5 37.1 L57.2 33.8 L58.9 40.4 L55.6 45.8 L52.4 43.6Z" fill="#1b95cf"/>
<path d="M70.3 115.6 L74.2 114.5 L74.6 124.4 L70.9 126.5Z" fill="#1b95cf"/>
<path d="M52.4 8.7 L57.2 0 L118.9 6.5 L117.8 54.5 L102.5 65.5 L96 80.7 L91.6 72 L86.2 56.7 L84 43.6 L74.2 32.7 L63.3 26.2 L55 17.5Z" fill="#d6eff9"/>
<path d="M53.2 8.3 L57.6 0 L118.9 6.5 L116.7 52.4 L104.7 63.3 L97.1 74.2 L92.7 65.5 L88.4 54.5 L86.2 42.5 L75.3 30.5 L63.7 24 L55.9 16.6Z" fill="#f9fdfe"/>
<path d="M83.6 20.3 L89 20.3 L90.3 34 L94.5 44.9 L89 40.8 L84.9 29.9Z" fill="#fff4d0"/>
<path d="M52.1 3.9 L57.2 0 L78.1 6.8 L86.2 13.5 L83.6 20.3 L71.3 21.8 L60.4 19 L54.3 12.2Z" fill="#fff4d0"/>
<path d="M53.9 4.4 L58.5 0.9 L77.7 7 L85.1 13.5 L82.5 19.2 L71.3 20.7 L61.1 17.9 L55.6 11.8Z" fill="#fee6a3"/>
<path d="M55.6 4.6 L60.4 2.2 L77.5 7.4 L84.2 13.5 L81.6 18.3 L71.3 19.6 L61.7 17 L56.9 11.6Z" fill="#fdd27c"/>
<path d="M58.9 5.5 L62.4 3.9 L76.8 8.1 L82.3 13.5 L79.4 17 L71.3 17.7 L63.1 14.8 L59.8 10.9Z" fill="#fcb52b"/>
<path d="M62.4 6.8 L75.3 8.1 L80.1 12.9 L76.8 15.5 L69.8 15.5 L63.7 12.9Z" fill="#fba01d"/>
<path d="M67.2 8.1 L74.6 8.7 L77.5 12.2 L71.3 13.5Z" fill="#f98b1f"/>
<path d="M89 20.3 L98.6 12.2 L108 6.8 L118.9 6.5 L110.8 27.3 L109.5 44.9 L104.1 57.2 L98.6 54.5 L94.5 44.9 L90.3 34Z" fill="#fff4d0"/>
<path d="M91.6 21.8 L99.9 12.9 L108 7.9 L117.8 7.9 L110.2 27.3 L108.9 44.3 L104.1 55.2 L99.7 52.4 L95.8 44.3 L92.5 34Z" fill="#fee6a3"/>
<path d="M95.1 23.1 L100.6 14.2 L108 9.2 L115.6 10 L109.7 27.3 L108.4 43.6 L104.1 53 L100.6 50.4 L98 43.6 L95.6 34Z" fill="#fdd27c"/>
<path d="M97.1 24.4 L101.2 15.5 L108 10.9 L113.5 11.6 L109.1 27.3 L107.8 42.1 L104.1 50.4 L101.2 47.6 L99.3 40.8 L98 32.7Z" fill="#fcb52b"/>
<path d="M99.3 25.7 L102.5 17.7 L108 13.5 L111.7 14 L108.4 27.3 L106.9 39.5 L104.1 44.9 L102.3 40.8 L100.6 34Z" fill="#fba01d"/>
</g><use href="#bd"/></g>
<use href="#ax"/>
<text class="t" x="59.1" y="-3" text-anchor="middle">GPCC</text>
</g>
<g>
<rect x="489.0" y="467.98" width="15.0" height="16.82" fill="#a50f15"/><rect x="489.0" y="451.46" width="15.0" height="16.82" fill="#bd1419"/><rect x="489.0" y="434.94" width="15.0" height="16.82" fill="#d01c1f"/><rect x="489.0" y="418.42" width="15.0" height="16.82" fill="#ee4427"/><rect x="489.0" y="401.90" width="15.0" height="16.82" fill="#f98b1f"/><rect x="489.0" y="385.38" width="15.0" height="16.82" fill="#fba01d"/><rect x="489.0" y="368.86" width="15.0" height="16.82" fill="#fcb52b"/><rect x="489.0" y="352.34" width="15.0" height="16.82" fill="#fdd27c"/><rect x="489.0" y="335.82" width="15.0" height="16.82" fill="#fee6a3"/><rect x="489.0" y="319.30" width="15.0" height="16.82" fill="#fff4d0"/><rect x="489.0" y="302.78" width="15.0" height="16.82" fill="#f9fdfe"/><rect x="489.0" y="286.26" width="15.0" height="16.82" fill="#e8f6fb"/><rect x="489.0" y="269.74" width="15.0" height="16.82" fill="#d6eff9"/><rect x="489.0" y="253.22" width="15.0" height="16.82" fill="#a3def6"/><rect x="489.0" y="236.70" width="15.0" height="16.82" fill="#8cd3f3"/><rect x="489.0" y="220.18" width="15.0" height="16.82" fill="#5cc3e6"/><rect x="489.0" y="203.66" width="15.0" height="16.82" fill="#1b95cf"/><rect x="489.0" y="187.14" width="15.0" height="16.82" fill="#167cc0"/><rect x="489.0" y="170.62" width="15.0" height="16.82" fill="#1563b3"/><rect x="489.0" y="154.10" width="15.0" height="16.82" fill="#0b2c68"/>
<rect x="489.0" y="154.1" width="15.0" height="330.4" fill="none" stroke="#0a0a0a" stroke-width="1.5"/>
<text class="c" x="506.6" y="488.1">10</text><text class="c" x="506.6" y="471.6">50</text><text class="c" x="506.6" y="455.1">100</text><text class="c" x="506.6" y="438.5">150</text><text class="c" x="506.6" y="422.0">200</text><text class="c" x="506.6" y="405.5">250</text><text class="c" x="506.6" y="389.0">300</text><text class="c" x="506.6" y="372.5">350</text><text class="c" x="506.6" y="355.9">400</text><text class="c" x="506.6" y="339.4">450</text><text class="c" x="506.6" y="322.9">500</text><text class="c" x="506.6" y="306.4">550</text><text class="c" x="506.6" y="289.9">600</text><text class="c" x="506.6" y="273.3">650</text><text class="c" x="506.6" y="256.8">700</text><text class="c" x="506.6" y="240.3">1000</text><text class="c" x="506.6" y="223.8">1500</text><text class="c" x="506.6" y="207.3">2000</text><text class="c" x="506.6" y="190.7">2500</text><text class="c" x="506.6" y="174.2">3000</text><text class="c" x="506.6" y="157.7">3500</text>
<text class="l" transform="translate(541.6 320.4) rotate(-90)" text-anchor="middle" textLength="109.5" lengthAdjust="spacingAndGlyphs">PRCPTOT (mm)</text>
</g>
</svg>
</body></html>
